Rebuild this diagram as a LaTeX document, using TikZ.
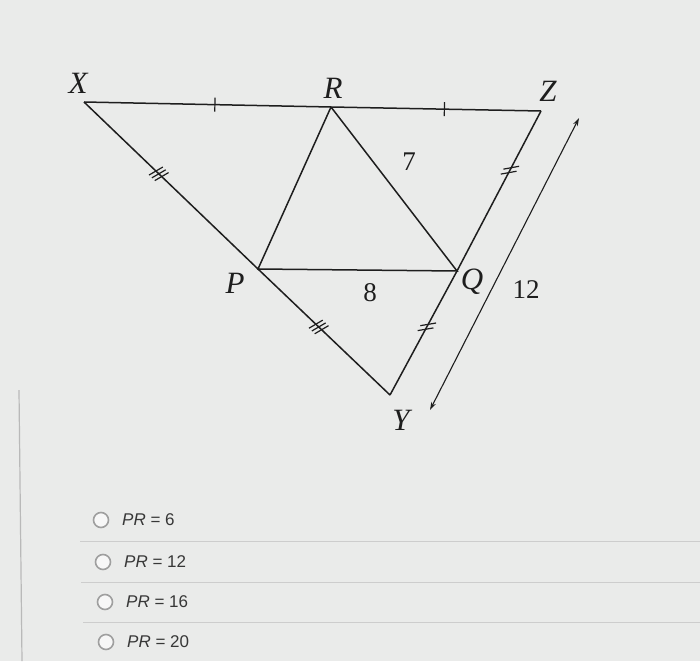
\documentclass[tikz,border=0pt]{standalone}
\usepackage{fontspec}
\setmainfont{Liberation Serif}
\newfontfamily\optfont{Liberation Sans}
\usetikzlibrary{calc,arrows.meta,decorations.markings}
\definecolor{screen}{RGB}{234,235,234}
\definecolor{ink}{RGB}{30,30,30}
\definecolor{optink}{RGB}{55,55,55}
\definecolor{rulegray}{RGB}{205,205,205}
\tikzset{
  seg/.style={draw=ink,line width=1.5pt},
  vlabel/.style={font=\fontsize{31}{31}\selectfont\itshape,text=ink,inner sep=0pt},
  nlabel/.style={font=\fontsize{27}{27}\selectfont,text=ink,inner sep=0pt},
  opt/.style={font=\optfont\fontsize{17}{17}\selectfont,text=optink,anchor=west,inner sep=0pt},
  radio/.style={draw=gray!75,line width=1.6pt,fill=white!60!screen},
  hashone/.style={postaction={decorate,decoration={markings,mark=at position #1 with
    {\draw[ink,line width=1.2pt] (0,-7pt)--(0,7pt);}}}},
  hashtwo/.style={postaction={decorate,decoration={markings,mark=at position #1 with
    {\foreach \s in {-2.8,2.8} \draw[ink,line width=1.2pt] ([shift={(\s pt,0)}]128:8pt) -- ([shift={(\s pt,0)}]-52:8pt);}}}},
  hashthree/.style={postaction={decorate,decoration={markings,mark=at position #1 with
    {\foreach \s in {-4,0,4} \draw[ink,line width=1.2pt] ([shift={(\s pt,0)}]74:8pt) -- ([shift={(\s pt,0)}]254:8pt);}}}}
}
\begin{document}
\begin{tikzpicture}[x=1pt,y=1pt]
% screen
\fill[screen] (0,0) rectangle (700,-661);
\useasboundingbox (0,0) rectangle (700,-661);
\draw[gray!55,line width=1.2pt] (19,-390) -- (22,-661);

% vertices
\coordinate (X) at (84,-102);
\coordinate (R) at (331,-107);
\coordinate (Z) at (541,-111);
\coordinate (P) at (258,-269);
\coordinate (Q) at (457,-271);
\coordinate (Y) at (390,-395);

% big triangle with marks
\draw[seg,hashone=0.53] (X) -- (R);
\draw[seg,hashone=0.54] (R) -- (Z);
\draw[seg,hashthree=0.43] (X) -- (P);
\draw[seg,hashthree=0.46] (P) -- (Y);
\draw[seg,hashtwo=0.37] (Z) -- (Q);
\draw[seg,hashtwo=0.45] (Q) -- (Y);

% midsegment triangle
\draw[seg] (R) -- (P) -- (Q) -- (R);

% length arrow
\coordinate (a1) at (430,-410);
\coordinate (a2) at (579,-118);
\draw[ink,line width=1.1pt,{Stealth[length=8pt,width=5pt]}-{Stealth[length=8pt,width=5pt]}] (a1) -- (a2);

% labels
\node[vlabel] (lX) at (78,-83) {X};
\node[vlabel] (lR) at (333,-88) {R};
\node[vlabel] (lZ) at (548,-91) {Z};
\node[vlabel] (lP) at (235,-283) {P};
\node[vlabel] (lQ) at (472,-282) {Q};
\node[vlabel] (lY) at (401,-420) {Y};
\node[nlabel] (l7) at (409,-162) {7};
\node[nlabel] (l8) at (370,-293) {8};
\node[nlabel] (l12) at (526,-290) {12};

% answer choices
\draw[rulegray,line width=1pt] (80,-541) -- (700,-541);
\draw[rulegray,line width=1pt] (81,-582) -- (700,-582);
\draw[rulegray,line width=1pt] (83,-622) -- (700,-622);
\foreach \i/\xc/\yc/\val in {1/101/520/6,2/103/562/12,3/105/602/16,4/106/642/20}{
  \draw[radio] (\xc,-\yc) circle (7.5pt);
  \node[opt] (opt\i) at (\xc+21,-\yc) {\textit{PR} = \val};
}
\end{tikzpicture}
\end{document}
